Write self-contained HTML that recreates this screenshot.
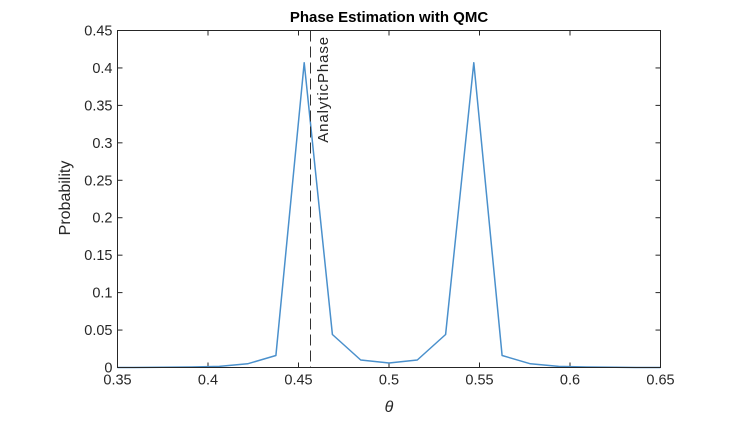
<!DOCTYPE html>
<html><head><style>body{margin:0;background:#fff}svg{display:block}</style></head>
<body>
<svg width="750" height="422" viewBox="0 0 750 422" xmlns="http://www.w3.org/2000/svg" font-family="Liberation Sans, sans-serif">
<rect width="750" height="422" fill="#fff"/>
<g id="ticks" stroke="#262626" stroke-width="1">
</g>
<script>
(function(){
var L=117.5,R=660.5,T=30.5,B=367.5;
var ns="http://www.w3.org/2000/svg",svg=document.querySelector('svg'),g=document.getElementById('ticks');
function el(n,a,p){var e=document.createElementNS(ns,n);for(var k in a)e.setAttribute(k,a[k]);(p||svg).appendChild(e);return e;}
function X(v){return L+(v-0.35)/0.3*(R-L);}
function Y(v){return B-v/0.45*(B-T);}
var xl=['0.35','0.4','0.45','0.5','0.55','0.6','0.65'];
for(var i=0;i<7;i++){var x=X(0.35+i*0.05);
el('line',{x1:x,y1:B,x2:x,y2:B-5},g);el('line',{x1:x,y1:T,x2:x,y2:T+5},g);
var t=el('text',{x:x,y:B+17,'text-anchor':'middle','font-size':'14.5',fill:'#262626'});t.textContent=xl[i];}
var yl=['0','0.05','0.1','0.15','0.2','0.25','0.3','0.35','0.4','0.45'];
for(var j=0;j<10;j++){var y=Y(j*0.05);
el('line',{x1:L,y1:y,x2:L+5,y2:y},g);el('line',{x1:R,y1:y,x2:R-5,y2:y},g);
var t2=el('text',{x:L-5,y:y+5,'text-anchor':'end','font-size':'14.5',fill:'#262626'});t2.textContent=yl[j];}
var d=[[0.35,0],[0.359,0],[0.375,0.0003],[0.391,0.0007],[0.40625,0.0015],[0.421875,0.005],[0.4375,0.016],[0.453125,0.407],[0.46875,0.044],[0.484375,0.01],[0.5,0.006],[0.515625,0.01],[0.53125,0.044],[0.546875,0.407],[0.5625,0.016],[0.578125,0.005],[0.59375,0.0015],[0.609,0.0007],[0.625,0.0003],[0.64,0],[0.65,0]];
var p=d.map(function(q){return X(q[0]).toFixed(1)+','+Y(q[1]).toFixed(1)}).join(' ');
el('polyline',{points:p,fill:'none',stroke:'#4a90cc','stroke-width':'1.5','stroke-linejoin':'round'});
el('line',{x1:310.5,y1:T,x2:310.5,y2:B,stroke:'#333','stroke-width':'1','stroke-dasharray':'11,5'});
el('rect',{x:L,y:T,width:R-L,height:B-T,fill:'none',stroke:'#262626','stroke-width':'1'});
var a=el('text',{x:0,y:0,transform:'translate(328,36) rotate(-90)','text-anchor':'end','font-size':'15','letter-spacing':'0.9',fill:'#262626'});a.textContent='AnalyticPhase';
var ti=el('text',{x:389,y:22,'text-anchor':'middle','font-size':'15','font-weight':'bold',fill:'#000'});ti.textContent='Phase Estimation with QMC';
var yt=el('text',{x:0,y:0,transform:'translate(70,198) rotate(-90)','text-anchor':'middle','font-size':'16',fill:'#262626'});yt.textContent='Probability';
var xt=el('text',{x:389,y:412,'text-anchor':'middle','font-size':'16','font-style':'italic',fill:'#262626'});xt.textContent='θ';
})();
</script>
</svg>
</body></html>
